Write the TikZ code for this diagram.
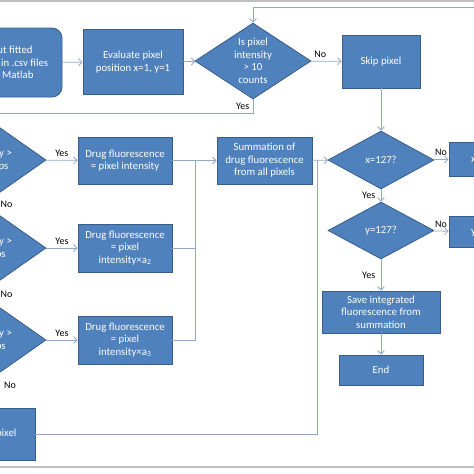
\documentclass[tikz,border=0pt]{standalone}
\usepackage{fontspec}
\setmainfont{Carlito}
\usetikzlibrary{shapes.geometric,arrows.meta}
\definecolor{boxblue}{RGB}{79,129,189}
\definecolor{boxedge}{RGB}{56,93,138}
\definecolor{linkcol}{RGB}{145,168,200}
\definecolor{framecol}{RGB}{192,192,192}
\begin{document}
\begin{tikzpicture}[x=1pt,y=-1pt,
	box/.style={rectangle,fill=boxblue,draw=boxedge,line width=.8pt,text=white,align=center,inner sep=0pt,font=\fontsize{10.8}{12.5}\selectfont},
	dec/.style={diamond,fill=boxblue,draw=boxedge,line width=.8pt,inner sep=0pt},
	dtxt/.style={text=white,align=center,font=\fontsize{10.8}{12.5}\selectfont},
	link/.style={draw=linkcol,line width=.8pt,-{Straight Barb[length=3.5pt,width=7pt]}},
	plain/.style={draw=linkcol,line width=.8pt},
	ans/.style={font=\fontsize{10}{11}\selectfont}]
	\useasboundingbox (0,0) rectangle (474,474);
	\draw[framecol,line width=2pt] (0,1)--(474,1) (0,467)--(474,467);
	\node[box,rounded corners=10pt,minimum width=108,minimum height=69] (inp) at (8,62.5) {Input fitted\\images in .csv files\\into Matlab};
	\node[box,minimum width=100,minimum height=65] (eval) at (133,62) {Evaluate pixel\\position x=1, y=1};
	\node[dec,minimum width=116,minimum height=76,label={[dtxt]center:{Is pixel\\intensity\\> 10\\counts}}] (int) at (253,61) {};
	\node[box,minimum width=78,minimum height=53] (skipA) at (381,61.5) {Skip pixel};
	\node[dec,minimum width=106,minimum height=58,label={[dtxt]center:{x=127?}}] (xchk) at (381,160) {};
	\node[box,minimum width=70,minimum height=34] (xinc) at (484,159) {x=x+1};
	\node[dec,minimum width=106,minimum height=57,label={[dtxt]center:{y=127?}}] (ychk) at (381,230.5) {};
	\node[box,minimum width=70,minimum height=31] (yinc) at (484,231.5) {y=y+1};
	\node[box,minimum width=118,minimum height=42] (save) at (381,312) {Save integrated\\fluorescence from\\summation};
	\node[box,minimum width=84,minimum height=30] (end) at (381,370) {End};
	\node[box,minimum width=95,minimum height=47] (sum) at (264.5,160.5) {Summation of\\drug fluorescence\\from all pixels};
	\node[dec,minimum width=114,minimum height=80,label={[dtxt]center:{Intensity >\\1000 cps}}] (r1) at (-11,160) {};
	\node[dec,minimum width=114,minimum height=80,label={[dtxt]center:{Intensity >\\500 cps}}] (r2) at (-11,248) {};
	\node[dec,minimum width=114,minimum height=80,label={[dtxt]center:{Intensity >\\100 cps}}] (r3) at (-11,340) {};
	\node[box,minimum width=94,minimum height=47] (d1) at (125,160.5) {Drug fluorescence\\= pixel intensity};
	\node[box,minimum width=94,minimum height=48] (d2) at (125,248) {Drug fluorescence\\= pixel\\intensity×a\textsubscript{2}};
	\node[box,minimum width=94,minimum height=48] (d3) at (125,340) {Drug fluorescence\\= pixel\\intensity×a\textsubscript{3}};
	\node[box,minimum width=78,minimum height=52] (skipB) at (-4,434) {Skip pixel};
	\coordinate (back) at (540,7);
	\coordinate (mrg) at (195,160.5);
	\coordinate (jn) at (317,160);
	\draw[link] (inp) -- (eval);
	\draw[link] (eval) -- (int);
	\draw[link] (int) -- node[ans,above,pos=.3]{No} (skipA);
	\draw[link] (int.south) -- node[ans,left]{Yes} ++(0,14) -| (r1.north);
	\draw[link] (skipA) -- (xchk);
	\draw[link] (xchk) -- node[ans,above]{No} (xinc);
	\draw[link] (xchk) -- node[ans,left=2pt]{Yes} (ychk);
	\draw[link] (ychk) -- node[ans,above]{No} (yinc);
	\draw[link] (ychk) -- node[ans,left=2pt]{Yes} (save);
	\draw[link] (save) -- (end);
	\draw[link] (xinc.east) -| (back) -| (int.north);
	\draw[plain] (yinc.east) -| (back);
	\draw[link] (r1) -- node[ans,above]{Yes} (d1);
	\draw[link] (r2) -- node[ans,above]{Yes} (d2);
	\draw[link] (r3) -- node[ans,above]{Yes} (d3);
	\draw[link] (r1) -- node[ans,right=8pt]{No} (r2);
	\draw[link] (r2) -- node[ans,right=8pt]{No} (r3);
	\draw[link] (r3) -- node[ans,right=8pt,pos=.25]{No} (skipB);
	\draw[link] (d1) -- (sum);
	\draw[plain] (d2) -| (mrg);
	\draw[plain] (d3) -| (mrg);
	\draw[link] (sum) -- (xchk);
	\draw[plain] (skipB) -| (jn);
\end{tikzpicture}
\end{document}
